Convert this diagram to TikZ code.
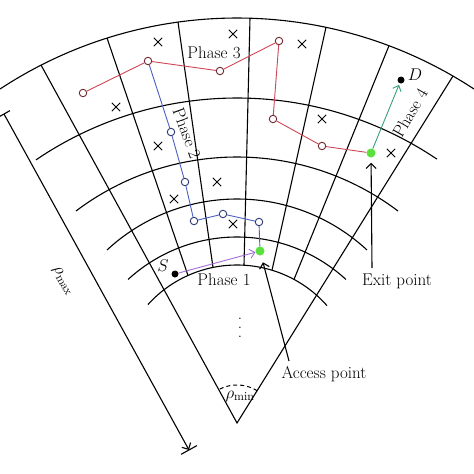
\RequirePackage{fix-cm}
\documentclass[tikz,border=0pt]{standalone}
\usetikzlibrary{arrows.meta,shapes.misc}
\definecolor{pred}{RGB}{205,70,85}
\definecolor{pblue}{RGB}{75,95,195}
\definecolor{ppurple}{RGB}{165,110,215}
\definecolor{pteal}{RGB}{55,160,130}
\definecolor{pgreen}{RGB}{90,225,60}
\begin{document}
\begin{tikzpicture}[x=1pt,y=-1pt,
  font=\fontsize{17}{20}\selectfont,
  gridline/.style={line width=1.1pt,black},
  xmark/.style={draw,cross out,minimum size=7.5pt,inner sep=0pt,line width=0.9pt},
  redpt/.style={circle,draw=pred!55!black,fill=white,line width=0.9pt,minimum size=7.5pt,inner sep=0pt},
  bluept/.style={circle,draw=pblue!60!black,fill=white,line width=0.9pt,minimum size=7.5pt,inner sep=0pt},
  gpt/.style={circle,fill=pgreen,minimum size=9pt,inner sep=0pt},
  bpt/.style={circle,fill=black,minimum size=7pt,inner sep=0pt},
  ptr/.style={-{Straight Barb[length=5pt,width=10pt]},line width=1.1pt},
  redline/.style={pred,line width=0.9pt},
  blueline/.style={pblue,line width=0.9pt},
  lbl/.style={inner sep=1pt}
]
\useasboundingbox (0,0) rectangle (474,474);
\fill[white] (0,0) rectangle (474,474);

% arcs
\foreach \cy/\r/\a/\b in {449/431/56.64/123.36, 455.6/357.6/56.0/124.2, 424/267/52.9/127.1,
  390.2/191.2/47.2/132.8, 398/161/47.4/132.6, 385/120/41.4/137.9}
  \draw[gridline] plot[domain=\a:\b,samples=90,variable=\t] ({237+\r*cos(\t)},{\cy-\r*sin(\t)});

% boundary and radial lines
\coordinate (apex) at (237,423);
\coordinate (lb) at (41,65);
\coordinate (rb) at (453,76);
\draw[gridline] (lb) -- (apex) -- (rb);
\foreach \ax/\ay/\bx/\by in {107/38/188/275.5, 178/22/213/267.4, 250/18.2/244/265.2,
  326/27.3/272/270.2, 389/45.7/294/279.4}
  \draw[gridline] (\ax,\ay) -- (\bx,\by);

% rho_min
\draw[line width=1pt,dash pattern=on 4pt off 3pt] plot[domain=58:119,samples=40,variable=\t] ({237+38*cos(\t)},{423-38*sin(\t)});
\node[inner sep=0pt] (rmin) at (240,396) {$\rho_{\min}$};
\node[inner sep=0pt] (dots) at (240,328) {\vbox{\baselineskip=9pt\hbox{.}\hbox{.}\hbox{.}}};

% rho_max dimension line
\coordinate (rtop) at (4,114);
\coordinate (rbot) at (189,450);
\coordinate (rtopa) at (-2,117.4);
\coordinate (rtopb) at (10,110.6);
\coordinate (rbota) at (181.1,454.3);
\coordinate (rbotb) at (196.9,445.6);
\draw[ptr] (rtop) -- (rbot);
\draw[line width=1.1pt] (rtopa) -- (rtopb);
\draw[line width=1.1pt] (rbota) -- (rbotb);
\node[rotate=-61,inner sep=0pt] (rmax) at (63,281) {$\rho_{\max}$};

% crosses
\foreach \n/\px/\py in {1/158/42, 2/233/34, 3/302/44, 4/116/107, 5/158/146, 6/322/119,
  7/391/153, 8/217/182, 9/174/199, 10/233/224}
  \node[xmark] (x\n) at (\px,\py) {};

% points
\node[redpt] (r1) at (83,93) {};
\node[redpt] (r2) at (148,61) {};
\node[redpt] (r3) at (220,71) {};
\node[redpt] (r4) at (279,41) {};
\node[redpt] (r5) at (273,119) {};
\node[redpt] (r6) at (322,146) {};
\node[bluept] (b1) at (171,132) {};
\node[bluept] (b2) at (185,182) {};
\node[bluept] (b3) at (194,221) {};
\node[bluept] (b4) at (223,214) {};
\node[bluept] (b5) at (259,222) {};
\node[gpt] (acc) at (260,251) {};
\node[gpt] (exit) at (371,153) {};
\node[bpt] (s) at (175,274) {};
\node[bpt] (d) at (401,80) {};

% paths
\draw[redline] (r1) -- (r2) -- (r3) -- (r4) -- (r5) -- (r6) -- (exit);
\draw[blueline] (r2) -- (b1) -- (b2) -- (b3) -- (b4) -- (b5) -- (acc);
\draw[ppurple,line width=0.9pt,-{Straight Barb[length=5pt,width=9pt]}] (s) -- (acc);
\draw[pteal,line width=0.9pt,-{Straight Barb[length=5pt,width=9pt]},shorten >=1.5pt] (exit) -- (d);

% labels
\node[lbl] (ph1) at (224,280) {Phase 1};
\node[lbl] (ph3) at (214,53) {Phase 3};
\node[lbl,rotate=-70] (ph2) at (187,133) {Phase 2};
\node[lbl,rotate=60] (ph4) at (410,113) {Phase 4};
\node[inner sep=0pt] (slbl) at (163,266) {$S$};
\node[inner sep=0pt] (dlbl) at (415,75) {$D$};
\node (exitlbl) at (397,281) {Exit point};
\node (acclbl) at (324,374) {Access point};

% pointers
\coordinate (exitfoot) at (372,268);
\coordinate (accfoot) at (289,361);
\draw[ptr,shorten >=5pt] (exitfoot) -- (exit);
\draw[ptr,shorten >=7pt] (accfoot) -- (acc);
\end{tikzpicture}
\end{document}
